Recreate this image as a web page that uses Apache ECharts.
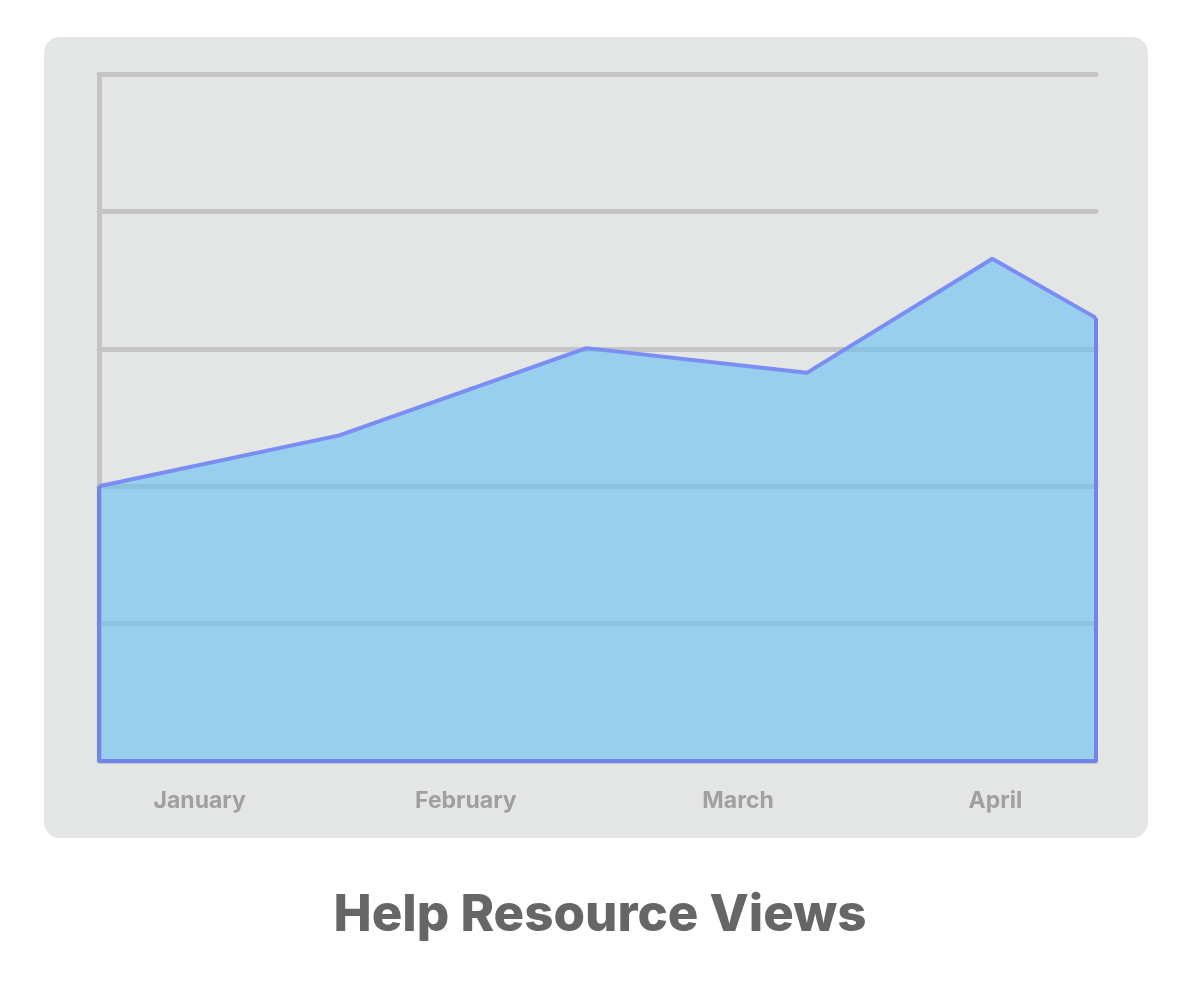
<!DOCTYPE html>
<html style="height: 100%">
<head>
    <meta charset="utf-8">
    <title>Help Resource Views</title>
    <script src="https://cdn.jsdelivr.net/npm/echarts@6/dist/echarts.min.js"></script>
</head>
<body style="height: 100%; margin: 0; background: #ffffff">
<div id="container" style="width: 1200px; height: 983px"></div>
<script type="text/javascript">
// horizontal position of each point (0 = left edge, 100 = right edge)
var xPos = [0, 24.1, 48.9, 71.0, 89.6, 100];
var views = [40.0, 47.4, 60.1, 56.5, 73.1, 64.5];
var months = ['January', 'February', 'March', 'April'];
var monthPos = [10.1, 36.8, 64.1, 89.9];

var dom = document.getElementById('container');
var myChart = echarts.init(dom);

var lineData = xPos.map(function (x, i) { return [x, views[i]]; });
var last = xPos.length - 1;
// left edge, bottom and right edge of the filled shape
var edgeData = [
  [xPos[0], views[0]], [xPos[0], 0], [xPos[last], 0], [xPos[last], views[last]]
];

var option = {
  animation: false,
  graphic: [{
    type: 'rect',
    z: -100,
    silent: true,
    shape: { x: 44, y: 37, width: 1104, height: 801, r: 16 },
    style: { fill: '#e4e5e5' }
  }],
  title: {
    text: 'Help Resource Views',
    left: 'center',
    top: 885,
    textStyle: {
      fontFamily: 'Inter',
      fontSize: 51,
      fontWeight: 800,
      color: '#666666'
    }
  },
  grid: { left: 99, right: 104, top: 74, bottom: 222 },
  xAxis: {
    type: 'value',
    min: 0,
    max: 100,
    axisLine: { show: false },
    axisTick: { show: false },
    splitLine: { show: false },
    axisLabel: {
      customValues: monthPos,
      margin: 29,
      fontFamily: 'Inter',
      fontSize: 23,
      fontWeight: 700,
      color: '#a0a0a0',
      formatter: function (v) {
        var i = monthPos.indexOf(v);
        return i >= 0 ? months[i] : '';
      }
    }
  },
  yAxis: {
    type: 'value',
    min: 0,
    max: 100,
    interval: 20,
    axisLine: { show: true, lineStyle: { color: '#c4c4c4', width: 5 } },
    axisTick: { show: false },
    axisLabel: { show: false },
    splitLine: { lineStyle: { color: '#c4c4c4', width: 5, cap: 'round' } }
  },
  series: [
    {
      type: 'line',
      data: lineData,
      symbol: 'none',
      lineStyle: { color: '#7a8ef2', width: 4 },
      areaStyle: { color: 'rgba(103, 192, 244, 0.6)', opacity: 1, origin: 'start' },
      z: 3
    },
    {
      type: 'line',
      data: edgeData,
      symbol: 'none',
      lineStyle: { color: '#7084ec', width: 4 },
      z: 4
    }
  ]
};

myChart.setOption(option);
</script>
</body>
</html>
